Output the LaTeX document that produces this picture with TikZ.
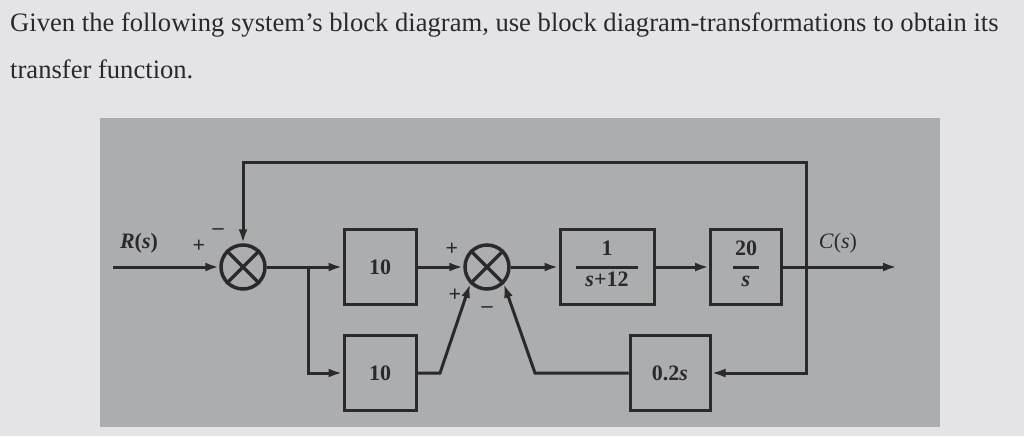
\documentclass[tikz,border=0pt]{standalone}
\usepackage{fontspec}
\setmainfont{Liberation Serif}
\usetikzlibrary{arrows.meta}
\definecolor{paper}{HTML}{E4E4E6}
\definecolor{panel}{HTML}{ACADAF}
\definecolor{ink}{HTML}{2A2A2A}
\begin{document}
\begin{tikzpicture}[x=1pt,y=-1pt,
  blk/.style={draw=ink,line width=3pt,minimum width=#1,minimum height=75pt,inner sep=0pt,font=\bfseries\fontsize{22}{22}\selectfont,text=ink},
  sumj/.style={draw=ink,line width=3.5pt,circle,minimum size=44pt,inner sep=0pt},
  wire/.style={draw=ink,line width=3pt},
  arr/.style={wire,-{Latex[length=14pt,width=9pt]}},
  sgn/.style={font=\bfseries\fontsize{22}{22}\selectfont,text=ink,inner sep=0pt}]
\useasboundingbox (0,0) rectangle (1024,436);
\fill[paper] (0,0) rectangle (1024,436);
\node[anchor=base west,inner sep=0pt,font=\fontsize{26.6}{30}\selectfont,text=ink] (t1) at (10,32) {Given the following system’s block diagram, use block diagram-transformations to obtain its};
\node[anchor=base west,inner sep=0pt,font=\fontsize{26.6}{30}\selectfont,text=ink] (t2) at (10,78) {transfer function.};
\fill[panel] (100,118) rectangle (940,427);
% nodes
\node[sumj] (s1) at (243,267) {};
\draw[ink,line width=3.5pt] (s1.north west)--(s1.south east) (s1.north east)--(s1.south west);
\node[sumj] (s2) at (487,267) {};
\draw[ink,line width=3.5pt] (s2.north west)--(s2.south east) (s2.north east)--(s2.south west);
\node[blk=72pt] (g1) at (380,267) {10};
\node[blk=72pt] (g2) at (380,373) {10};
\node[blk=94pt] (g3) at (607,267) {\begin{tabular}{@{}c@{}}1\\[-9pt]\rule{62pt}{2.5pt}\\[-4pt]\textit{s}+12\end{tabular}};
\node[blk=71pt] (g4) at (746,267) {\begin{tabular}{@{}c@{}}20\\[-9pt]\rule{26pt}{2.5pt}\\[-4pt]\textit{s}\end{tabular}};
\node[blk=80pt] (h) at (670,373) {0.2\textit{s}};
\coordinate (in) at (113,267);
\coordinate (out) at (897,267);
\coordinate (br) at (308,267);
\coordinate (tp) at (806,267);
% labels
\node[font=\bfseries\fontsize{22}{22}\selectfont,text=ink] (R) at (139,243) {\textit{R}(\textit{s})};
\node[font=\fontsize{22}{22}\selectfont,text=ink] (C) at (838,243) {\textit{C}(\textit{s})};
\node[sgn] (p1) at (199,246) {+};
\node[sgn] (m1) at (218,232) {--};
\node[sgn] (p2) at (452,249) {+};
\node[sgn] (p3) at (455,295) {+};
\node[sgn] (m3) at (487,310) {--};
% wires
\draw[arr] (in) -- (s1);
\draw[wire] (s1) -- (br);
\draw[arr] (br) -- (g1);
\draw[arr] (br) |- (g2);
\draw[arr] (g1) -- (s2);
\draw[arr] (s2) -- (g3);
\draw[arr] (g3) -- (g4);
\draw[arr] (g4) -- (out);
\draw[arr] (tp) |- (h);
\draw[arr] (tp) |- (243,162) -- (s1);
\draw[arr] (g2.east) -- (440,373) -- (s2.south west);
\draw[arr] (h.west) -- (535,373) -- (s2.south east);
\end{tikzpicture}
\end{document}
